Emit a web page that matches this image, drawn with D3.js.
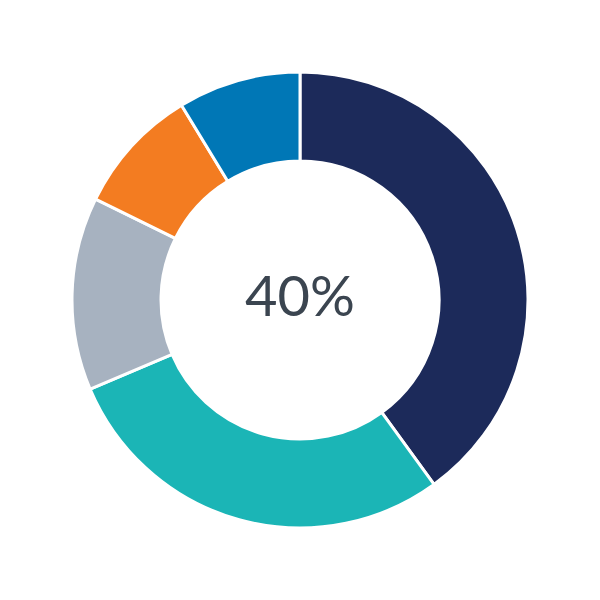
<!DOCTYPE html>
<html>
<head>
<meta charset="utf-8">
<script src="https://cdn.jsdelivr.net/npm/d3@7"></script>
<style>
  html, body { margin: 0; padding: 0; background: #fff; }
</style>
</head>
<body>
<svg id="chart" width="600" height="600"></svg>
<script>
// slice values (percent), clockwise from 12 o'clock
var categories = ["A", "B", "C", "D", "E"];
var values = [40, 28.6, 13.7, 9.0, 8.7];
var colors = ["#1c2a5a", "#1bb5b6", "#a7b2c0", "#f37c21", "#0077b6"];
var centerLabel = "40%";

chart();

function chart() {
    var svg = d3.select("#chart"),
        width = +svg.attr("width"),
        height = +svg.attr("height");

    var outer = 228, inner = 139;

    var data = categories.map((c, i) => ({cat: c, value: values[i]}));

    var col = d3.scaleOrdinal().domain(categories).range(colors);

    var pie = d3.pie().sort(null).value(d => d.value);
    var arc = d3.arc().innerRadius(inner).outerRadius(outer);

    var g = svg.append("g")
        .attr("transform", `translate(${width / 2},${height / 2})`);

    g.selectAll("path")
        .data(pie(data))
        .enter().append("path")
        .attr("d", arc)
        .attr("fill", d => col(d.data.cat))
        .attr("stroke", "#fff")
        .attr("stroke-width", 3)
        .attr("stroke-linejoin", "round");

    g.append("text")
        .attr("text-anchor", "middle")
        .attr("dy", "0.35em")
        .attr("y", -4)
        .attr("font-family", "Lato, sans-serif")
        .attr("font-size", 56)
        .attr("fill", "#3b4550")
        .text(centerLabel);
}
</script>
</body>
</html>
